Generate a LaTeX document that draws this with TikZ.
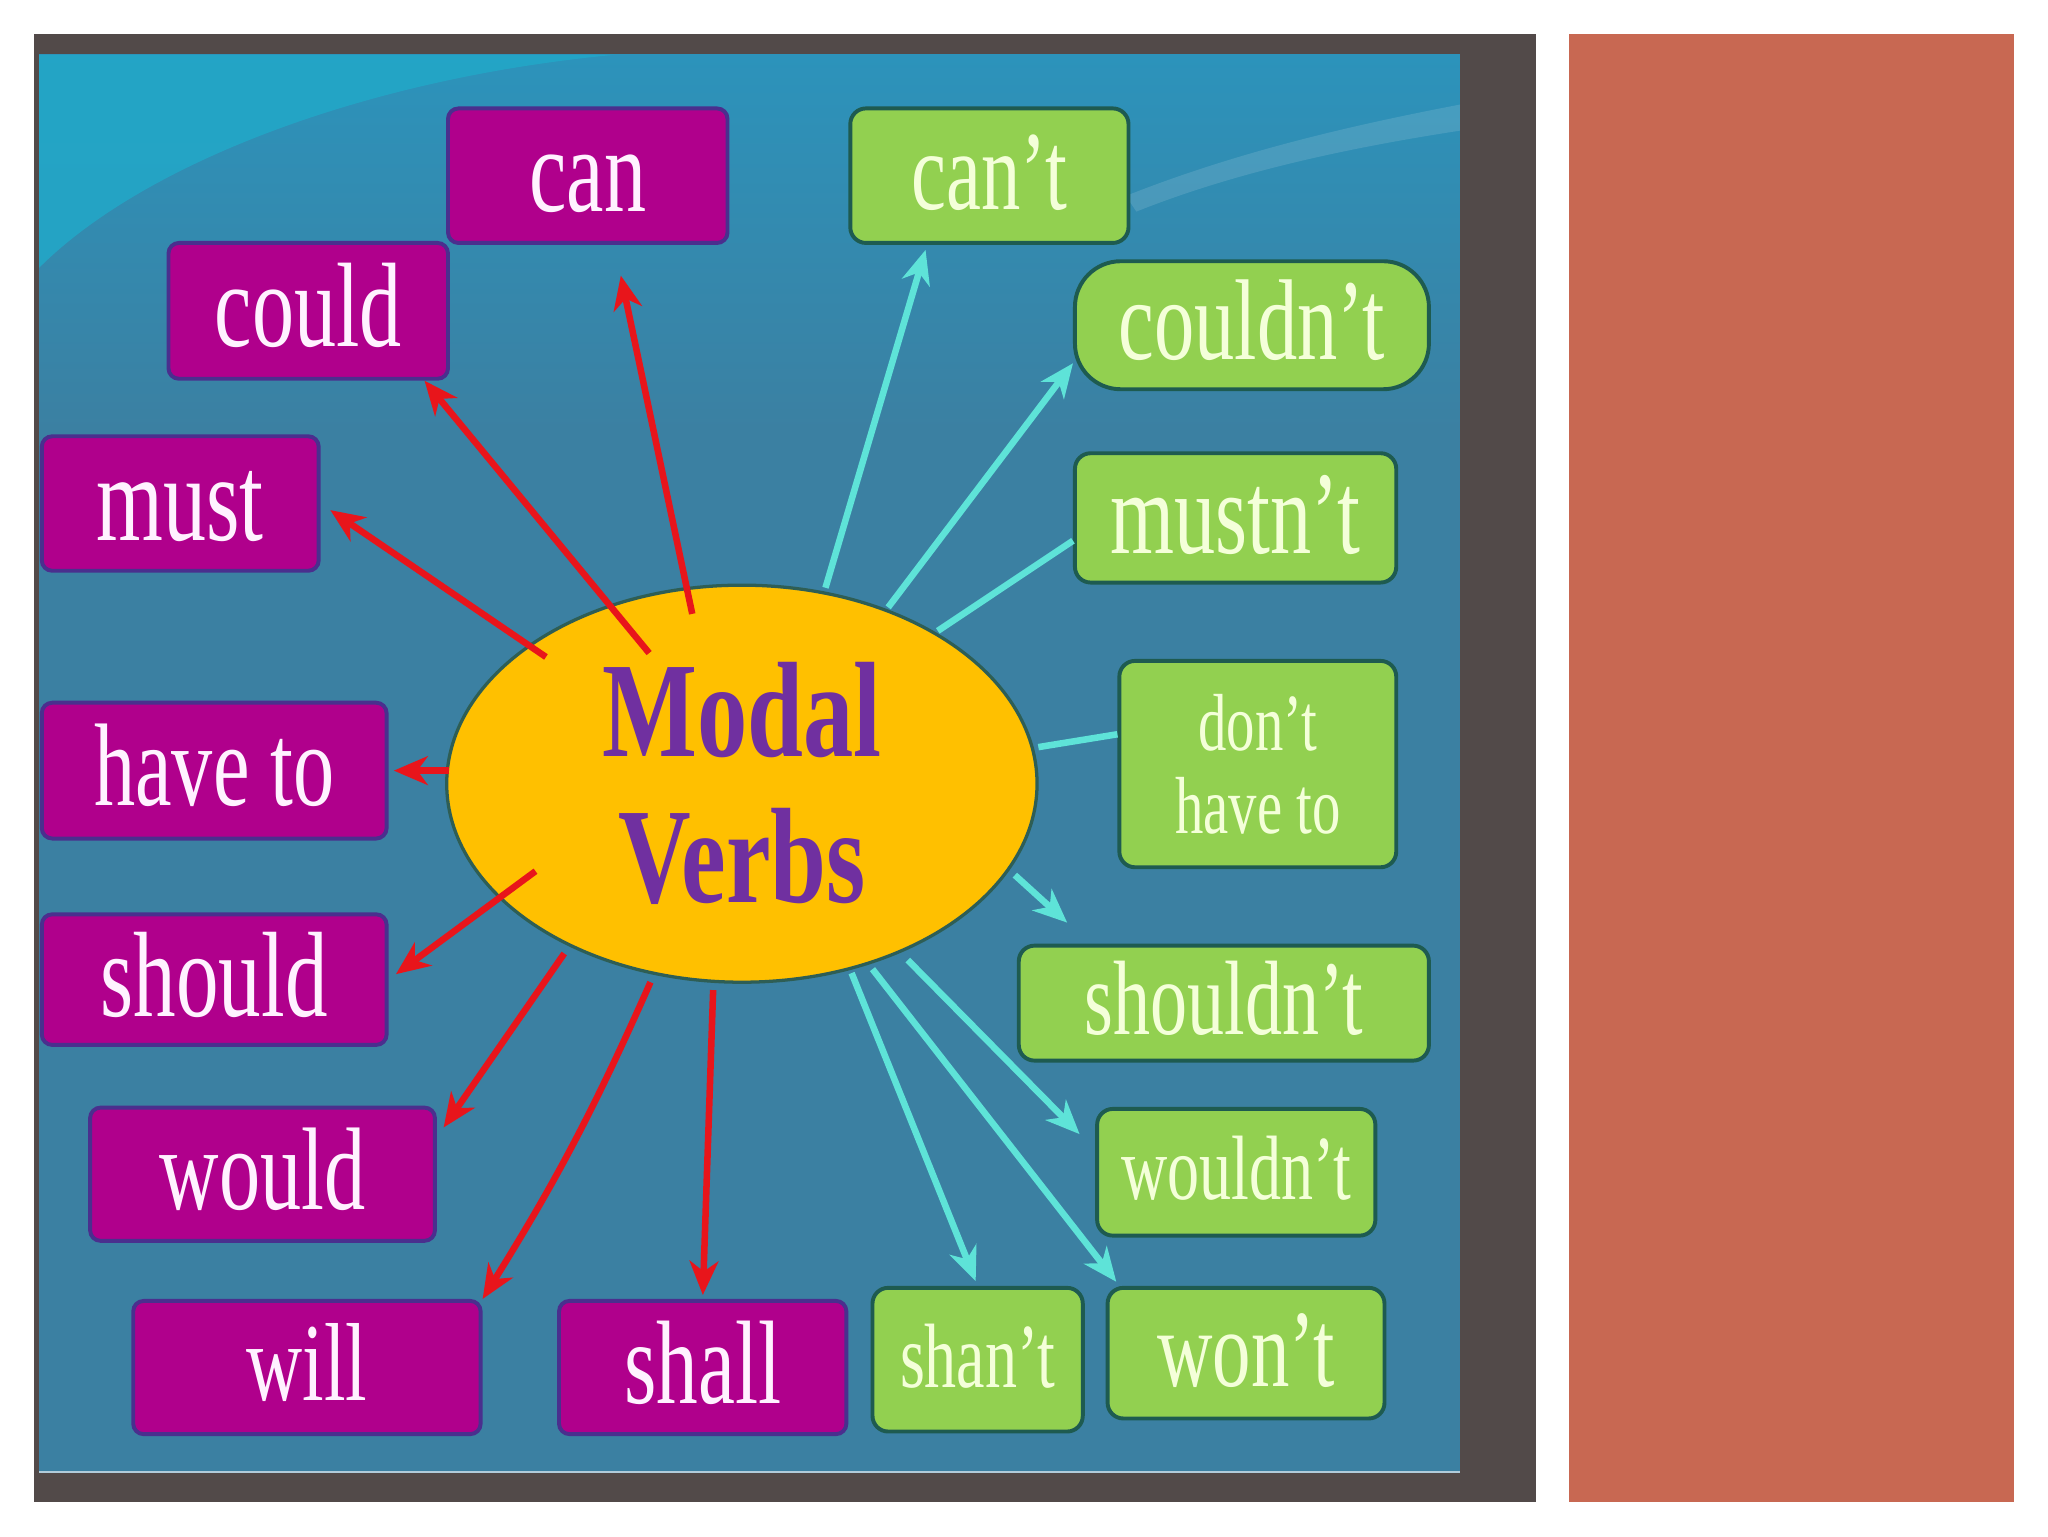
\documentclass[tikz,border=0pt]{standalone}
\usepackage{fontspec}
\setmainfont{Liberation Serif}
\newfontfamily\boxfont[FakeStretch=0.7]{Liberation Serif}
\newfontfamily\titlefont[FakeStretch=0.74]{Liberation Serif}
\usetikzlibrary{shapes.geometric,arrows.meta,calc}
\definecolor{framegray}{HTML}{524A49}
\definecolor{rust}{HTML}{C86852}
\definecolor{bgblue}{HTML}{3B80A2}
\definecolor{bgtop}{HTML}{2C93BB}
\definecolor{bgcyan}{HTML}{22A8C8}
\definecolor{pfill}{HTML}{B0008C}
\definecolor{pline}{HTML}{4A2F8E}
\definecolor{ptext}{HTML}{FFF2FF}
\definecolor{gfill}{HTML}{92D050}
\definecolor{gline}{HTML}{1E5B50}
\definecolor{gtext}{HTML}{F4FFD9}
\definecolor{yfill}{HTML}{FFC000}
\definecolor{yline}{HTML}{2E5E55}
\definecolor{ttext}{HTML}{7030A0}
\definecolor{arrred}{HTML}{E8151B}
\definecolor{arrcyan}{HTML}{5EE3D8}
\tikzset{
  boxbase/.style={rectangle, line width=3pt, inner sep=0pt},
  pbox/.style={boxbase, rounded corners=8pt, fill=pfill, draw=pline, text=ptext},
  gbox/.style={boxbase, rounded corners=12pt, fill=gfill, draw=gline, text=gtext},
  wh/.style 2 args={minimum width=#1pt, minimum height=#2pt},
  fs/.style={font=\boxfont\fontsize{#1}{#1}\selectfont, text height={#1pt*0.7}, text depth={#1pt*0.1}},
  arrowtip/.style={-{Stealth[length=26pt,width=22pt,inset=8pt]}},
  redarr/.style={draw=arrred, line width=5pt, arrowtip},
  cyanarr/.style={draw=arrcyan, line width=5pt, arrowtip},
  cyanline/.style={draw=arrcyan, line width=5pt},
}
\begin{document}
\begin{tikzpicture}[x=1pt, y=-1pt]
\useasboundingbox (0,0) rectangle (1568,1176);
\fill[white] (0,0) rectangle (1568,1176);
% frame and side panel
\fill[framegray] (26,26) rectangle (1176,1150);
\fill[rust] (1201,26) rectangle (1542,1150);
% picture background
\begin{scope}
\clip (30,42) rectangle (1118,1128);
\fill[bgblue] (30,42) rectangle (1118,1128);
\shade[top color=bgtop, bottom color=bgblue] (30,42) rectangle (1118,330);
\fill[bgcyan, opacity=0.85] (30,42) -- (30,205) .. controls (110,125) and (280,60) .. (470,42) -- cycle;
\fill[white, opacity=0.12] (862,150) .. controls (950,115) and (1040,95) .. (1118,80) -- (1118,100) .. controls (1040,112) and (950,130) .. (870,162) -- cycle;
\draw[color=bgblue!40!white, line width=1.5pt] (30,1127) -- (1118,1127);
\end{scope}
\fill[framegray] (1118,26) rectangle (1176,1150);

% central ellipse
\node[ellipse, fill=yfill, draw=yline, line width=2.5pt, minimum width=452pt, minimum height=304pt,
      inner sep=0pt, text=ttext, align=center,
      font=\titlefont\bfseries\fontsize{104}{112}\selectfont] (ell) at (568,600) {Modal\\Verbs};

% purple boxes
\node[pbox, wh={214}{103}, fs=92] (can)    at (450,134.5) {can};
\node[pbox, wh={214}{104}, fs=92] (could)  at (236,238)   {could};
\node[pbox, wh={212}{103}, fs=94] (must)   at (138,385.5) {must};
\node[pbox, wh={264}{104}, fs=90] (haveto) at (164,590)   {have to};
\node[pbox, wh={264}{100}, fs=93] (should) at (164,750)   {should};
\node[pbox, wh={264}{102}, fs=90] (would)  at (201,899)   {would};
\node[pbox, wh={266}{102}, fs=85] (will)   at (235,1047)  {will};
\node[pbox, wh={220}{102}, fs=91] (shall)  at (538,1047)  {shall};

% green boxes
\node[gbox, wh={213}{103}, fs=86] (cant)     at (757.5,134.5) {can’t};
\node[gbox, rounded corners=35pt, wh={271}{98}, fs=88] (couldnt) at (958.5,249) {couldn’t};
\node[gbox, wh={246}{99}, fs=90]  (mustnt)   at (946,396.5)   {mustn’t};
\node[gbox, wh={212}{158}, align=center, font=\boxfont\fontsize{62}{64}\selectfont] (donthave) at (963,585) {don’t\\have to};
\node[gbox, wh={314}{88}, fs=81]  (shouldnt) at (937,768)     {shouldn’t};
\node[gbox, wh={213}{97}, fs=70]  (wouldnt)  at (946.5,897.5) {wouldn’t};
\node[gbox, wh={161}{110}, fs=70] (shant)    at (748.5,1041)  {shan’t};
\node[gbox, wh={212}{100}, fs=84] (wont)     at (954,1036)    {won’t};

% arrow tails on the ellipse
\coordinate (r1) at (530,470);
\coordinate (r2) at (497,500);
\coordinate (r3) at (418,503);
\coordinate (r4) at (344,590);
\coordinate (r5) at (410,667);
\coordinate (r6) at (432,730);
\coordinate (r7) at (498,752);
\coordinate (r8) at (546,758);
\coordinate (c1) at (632,450);
\coordinate (c2) at (680,465);
\coordinate (c3) at (718,483);
\coordinate (c4) at (795,572);
\coordinate (c5) at (777,670);
\coordinate (c6) at (695,735);
\coordinate (c7) at (652,745);
\coordinate (c8) at (668,742);

% red arrows
\draw[redarr, shorten >=24pt] (r1) -- (can.-69);
\draw[redarr] (r2) -- (could.-31);
\draw[redarr, shorten >=9pt] (r3) -- (must.east);
\draw[redarr, shorten >=4pt] (r4) -- (haveto.east);
\draw[redarr, shorten >=7pt] (r5) -- (should.east);
\draw[redarr, shorten >=9pt] (r6) -- (would.12);
\draw[redarr] (r7) to[bend left=4] (will.north east);
\draw[redarr, shorten >=3pt] (r8) -- (shall.north);

% cyan arrows
\draw[cyanarr, shorten >=4pt] (c1) -- (cant.-132);
\draw[cyanarr] (c2) -- (couldnt.-168);
\draw[cyanline] (c3) -- (mustnt.-172);
\draw[cyanline] (c4) -- (donthave.168);
\draw[cyanarr, shorten >=24pt] (c5) -- (shouldnt.156);
\draw[cyanarr, shorten >=17pt] (c6) -- (wouldnt.171);
\draw[cyanarr, shorten >=4pt] (c7) -- (shant.north);
\draw[cyanarr, shorten >=4pt] (c8) -- (wont.152);
\end{tikzpicture}
\end{document}
